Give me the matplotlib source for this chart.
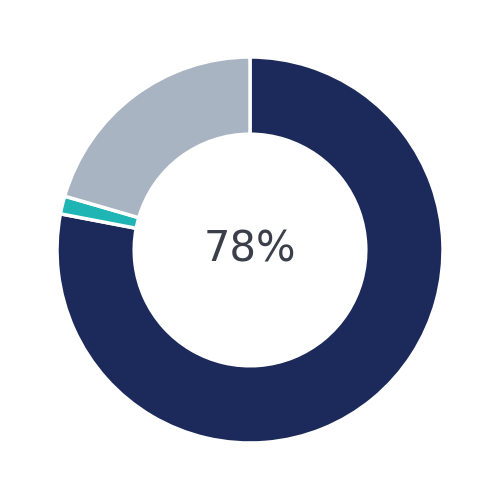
import matplotlib.pyplot as plt

labels = ['Main', 'Other', 'Rest']
values = [78, 1.5, 20.5]
colors = ['#1b2a5a', '#20b5b5', '#a9b4c2']
center_text = '78%'

fig = plt.figure(figsize=(5, 5), dpi=100)
ax = fig.add_axes([0, 0, 1, 1])
ax.pie(values, colors=colors, startangle=90, counterclock=False,
       radius=1, wedgeprops=dict(width=0.4, edgecolor='white', linewidth=2.5))
ax.text(0, 0, center_text, ha='center', va='center', fontsize=30, color='#3a3f4a')
lim = 250 / 193
ax.set_xlim(-lim, lim)
ax.set_ylim(-lim, lim)
ax.set_aspect('equal')
ax.axis('off')
plt.savefig('out.png', dpi=100)
